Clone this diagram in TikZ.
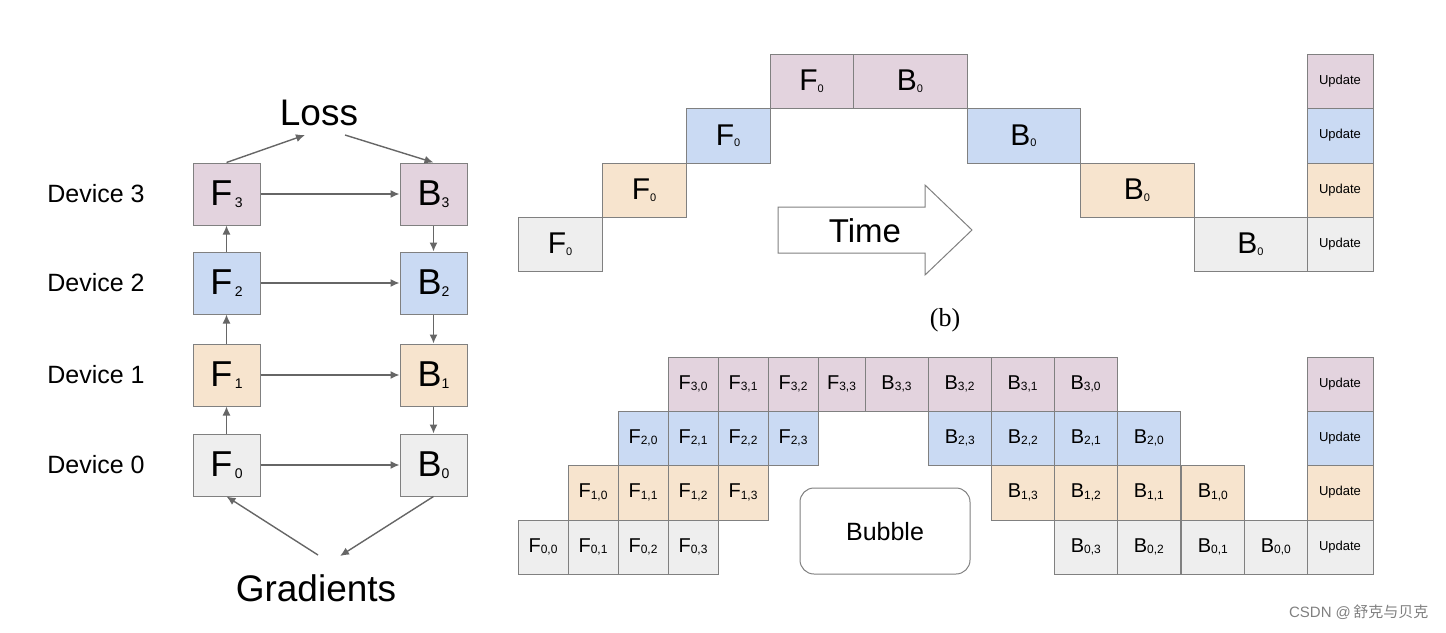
\documentclass[tikz,border=0pt]{standalone}
\usepackage{fontspec}
\setmainfont{Liberation Sans}
\newfontfamily\timesf{Liberation Serif}
\newfontfamily\cjk{Noto Sans CJK SC}
\usetikzlibrary{arrows.meta}
\definecolor{cp}{HTML}{E3D3DE}
\definecolor{cb}{HTML}{CADAF3}
\definecolor{co}{HTML}{F7E4CE}
\definecolor{cg}{HTML}{EEEEEE}
\definecolor{ln}{HTML}{808080}
\newcommand\lb[4]{{\fontsize{#2}{#2}\selectfont #1}{\fontsize{#4}{#4}\selectfont\raisebox{-1.5pt}{#3}}}
\newcommand\cb[6]{\draw[cellst,fill=#5] (#1,#2) rectangle (#3,#4) node[midway,text=black]{#6};}
\tikzset{cellst/.style={draw=ln,line width=0.9pt},
 arr/.style={draw=ln!80!black,line width=1.4pt,-{Latex[length=9pt,width=8pt]}},
 dev/.style={draw=ln,line width=1pt,minimum width=67pt,minimum height=62pt,inner sep=0pt}}
\begin{document}
\begin{tikzpicture}[x=1pt,y=-1pt]
\useasboundingbox (0,0) rectangle (1446,632);
% left
\foreach \n/\c/\y/\d in {3/cp/194/3,2/cb/283/2,1/co/375/1,0/cg/465/0}{
 \node[dev,fill=\c] (F\n) at (226.5,\y) {\lb{F}{36}{\,\n}{14}};
 \node[dev,fill=\c] (B\n) at (433.5,\y) {\lb{B}{36}{\n}{14}};
 \draw[arr] (F\n) -- (B\n);
 \node[font=\fontsize{25}{25}\selectfont] (D\n) at (96,\y) {Device \d};
}
\draw[arr] (F0) -- (F1); \draw[arr] (F1) -- (F2); \draw[arr] (F2) -- (F3);
\draw[arr] (B3) -- (B2); \draw[arr] (B2) -- (B1); \draw[arr] (B1) -- (B0);
\node[font=\fontsize{37}{37}\selectfont] (loss) at (319,113) {Loss};
\node[font=\fontsize{37}{37}\selectfont] (grad) at (316,588) {Gradients};
\coordinate (l1) at (305,135); \coordinate (l2) at (345,135);
\draw[arr] (F3.north) -- (l1); \draw[arr] (l2) -- (B3.north);
\coordinate (g1) at (318,555);
\draw[arr] (g1) -- (F0.south);
\coordinate (g3) at (340,556);
\draw[arr] (B0.south) -- (g3);
% top chart
\cb{518}{217}{602}{271}{cg}{\lb{F}{30}{0}{11}}
\cb{602}{163}{686}{217}{co}{\lb{F}{30}{0}{11}}
\cb{686}{108}{770}{163}{cb}{\lb{F}{30}{0}{11}}
\cb{770}{54}{853}{108}{cp}{\lb{F}{30}{0}{11}}
\cb{853}{54}{967}{108}{cp}{\lb{B}{30}{0}{11}}
\cb{967}{108}{1080}{163}{cb}{\lb{B}{30}{0}{11}}
\cb{1080}{163}{1194}{217}{co}{\lb{B}{30}{0}{11}}
\cb{1194}{217}{1307}{271}{cg}{\lb{B}{30}{0}{11}}
\foreach \c/\a/\b in {cp/54/108,cb/108/163,co/163/217,cg/217/271}{
 \cb{1307}{\a}{1373}{\b}{\c}{\fontsize{13}{13}\selectfont Update}}
\draw[ln,line width=1pt,fill=white] (778,207) -- (925,207) -- (925,185) -- (972,230) -- (925,275) -- (925,253) -- (778,253) -- cycle;
\node[font=\fontsize{33}{33}\selectfont] (time) at (865,231) {Time};
\node[font=\timesf\fontsize{26}{26}\selectfont] (b) at (945,320) {(b)};
% bottom chart
\def\F#1#2{\lb{F}{20}{#1,#2}{12}}
\def\B#1#2{\lb{B}{20}{#1,#2}{12}}
\foreach \x/\j in {518/0,568/1,618/2,668/3}{\pgfmathsetmacro\xe{\x+50}\cb{\x}{520}{\xe}{574}{cg}{\F0\j}}
\foreach \x/\j in {568/0,618/1,668/2,718/3}{\pgfmathsetmacro\xe{\x+50}\cb{\x}{465}{\xe}{520}{co}{\F1\j}}
\foreach \x/\j in {618/0,668/1,718/2,768/3}{\pgfmathsetmacro\xe{\x+50}\cb{\x}{411}{\xe}{465}{cb}{\F2\j}}
\foreach \x/\j in {668/0,718/1,768/2}{\pgfmathsetmacro\xe{\x+50}\cb{\x}{357}{\xe}{411}{cp}{\F3\j}}
\cb{818}{357}{865}{411}{cp}{\F33}
\cb{865}{357}{928}{411}{cp}{\B33}
\foreach \x/\j in {928/2,991/1,1054/0}{\pgfmathsetmacro\xe{\x+63}\cb{\x}{357}{\xe}{411}{cp}{\B3\j}}
\foreach \x/\j in {928/3,991/2,1054/1,1117/0}{\pgfmathsetmacro\xe{\x+63.5}\cb{\x}{411}{\xe}{465}{cb}{\B2\j}}
\foreach \x/\j in {991/3,1054/2,1117/1,1181/0}{\pgfmathsetmacro\xe{\x+63.5}\cb{\x}{465}{\xe}{520}{co}{\B1\j}}
\foreach \x/\j in {1054/3,1117/2,1181/1,1244/0}{\pgfmathsetmacro\xe{\x+63.5}\cb{\x}{520}{\xe}{574}{cg}{\B0\j}}
\foreach \c/\a/\b in {cp/357/411,cb/411/465,co/465/520,cg/520/574}{
 \cb{1307}{\a}{1373}{\b}{\c}{\fontsize{13}{13}\selectfont Update}}
\draw[ln,line width=1pt,rounded corners=14pt] (800,488) rectangle (970,574);
\node[font=\fontsize{25}{25}\selectfont] (bub) at (885,532) {Bubble};
\node[font=\fontsize{15}{15}\selectfont,text=gray,anchor=east] (csdn) at (1432,612) {CSDN @\,{\cjk 舒克与贝克}};
\end{tikzpicture}
\end{document}
